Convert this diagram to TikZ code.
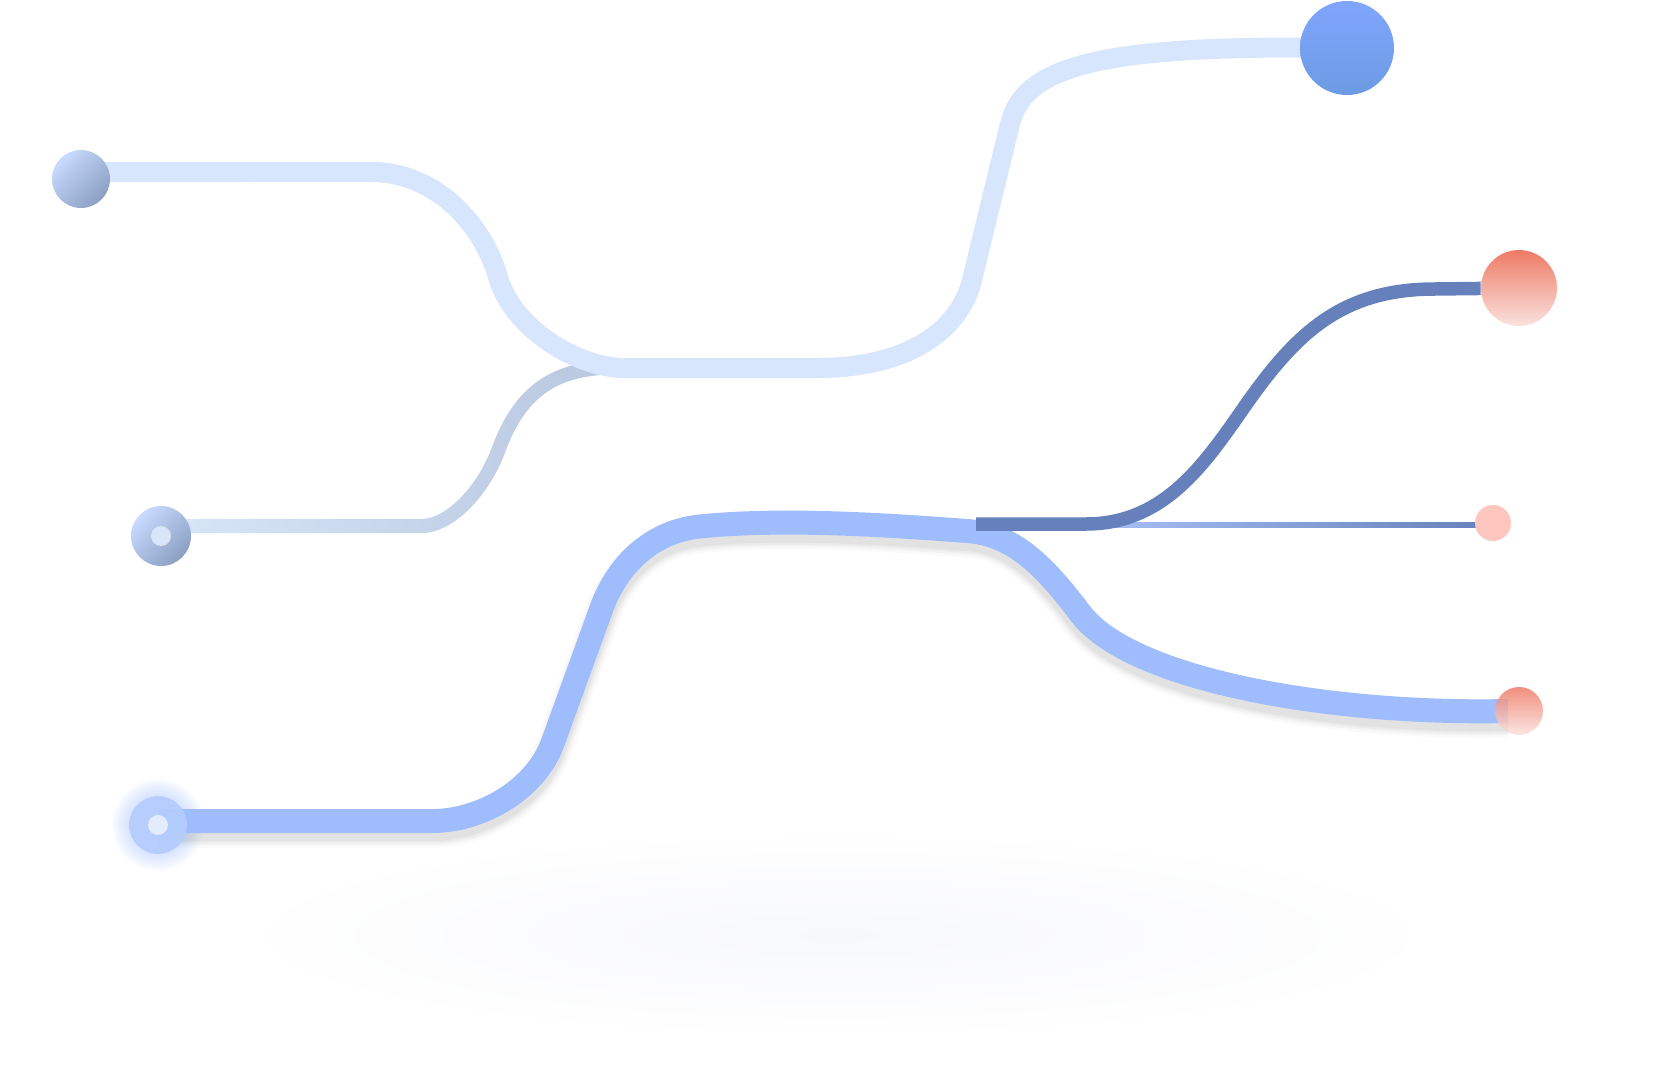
\documentclass[tikz,border=0pt]{standalone}
\usetikzlibrary{fadings}

\definecolor{palewire}{HTML}{D7E6FD}
\definecolor{mistlight}{HTML}{D9E7F9}
\definecolor{mistwire}{HTML}{B9C8E0}
\definecolor{routeblue}{HTML}{9FBCFD}
\definecolor{inkblue}{HTML}{6580BA}
\definecolor{haze}{HTML}{A9C1F7}
\definecolor{srclight}{HTML}{C9DBFF}
\definecolor{srcdark}{HTML}{8A9FC2}
\definecolor{dotfill}{HTML}{D9E6FA}
\definecolor{glowblue}{HTML}{B4CCFE}
\definecolor{glowdot}{HTML}{E2ECFD}
\definecolor{skytop}{HTML}{80A5FE}
\definecolor{skybottom}{HTML}{6B9BE2}
\definecolor{coraltop}{HTML}{EE7B66}
\definecolor{coralbottom}{HTML}{FAE2DE}
\definecolor{peach}{HTML}{FDC7BF}
\definecolor{shadowgray}{HTML}{555555}
\definecolor{floor}{HTML}{F7F8FC}

\pgfdeclarelayer{background}
\pgfsetlayers{background,main}

\begin{document}
\begin{tikzpicture}[x=0.02cm, y=-0.02cm, dot/.style = {circle, inner sep=0pt}, wire/.style = {line cap=butt, line join=round},
        soft/.style 2 args = {preaction={draw=shadowgray, opacity=#1, line width=#2, transform canvas={yshift=-0.16cm}}}]
        \useasboundingbox (0,0) rectangle (1678,1075);

        % end points
        \node[dot, minimum size=1.16cm, top color=srclight, bottom color=srcdark, shading angle=45] (s1) at (81,179) {};
        \node[dot, minimum size=1.2cm, top color=srclight, bottom color=srcdark, shading angle=45] (s2) at (161,536) {};
        \node[dot, minimum size=0.4cm, fill=dotfill] (s2c) at (s2) {};
        \node[dot, minimum size=1.16cm, fill=glowblue, opacity=0.95] (s3) at (158,825) {};
        \node[dot, minimum size=0.4cm, fill=glowdot] (s3c) at (s3) {};
        \node[dot, minimum size=1.88cm, top color=skytop, bottom color=skybottom] (t1) at (1347,48) {};
        \node[dot, minimum size=1.52cm, top color=coraltop, bottom color=coralbottom] (t2) at (1519,288) {};
        \node[dot, minimum size=0.72cm, fill=peach] (t3) at (1493,523) {};
        \node[dot, minimum size=0.96cm, top color=coraltop, bottom color=coralbottom, opacity=0.85] (t4) at (1519,711) {};

        \coordinate (join) at (600,368);
        \coordinate (fork) at (976,524);
        \coordinate (split) at (1086,527);

        \begin{pgfonlayer}{background}
        \shade[inner color=floor, outer color=white] (838,935) ellipse (12.3cm and 2.1cm);
        \foreach \r in {0.6,0.62,...,0.92}
            \fill[glowblue, opacity=0.04] (s3) circle (\r cm);

        \draw[wire, line width=0.28cm, mistlight] ([yshift=0.2cm]s2.center) -- (422,526) .. controls (450,526) and (485,490) .. (500,446) .. controls (520,395) and (550,372) .. (join);
        \draw[wire, line width=0.28cm, mistwire, path fading=west] ([yshift=0.2cm]s2.center) -- (422,526) .. controls (450,526) and (485,490) .. (500,446) .. controls (520,395) and (550,372) .. (join);

        \draw[wire, line width=0.4cm, palewire] ([yshift=0.14cm]s1.center) -- (371,172) .. controls (440,172) and (485,230) .. (498,277) .. controls (512,328) and (580,372) .. (634,368) -- (817,368) .. controls (910,368) and (960,329) .. (972,280) -- (1010,124) .. controls (1024,66) and (1100,44) .. (t1.center);

        \draw[wire, line width=0.48cm, routeblue,
            soft={0.03}{0.74cm}, soft={0.04}{0.64cm}, soft={0.05}{0.56cm}, soft={0.06}{0.48cm}]
            ([yshift=0.08cm]s3.center) -- (433,821) .. controls (478,821) and (535,792) .. (553,742) -- (602,607) .. controls (614,574) and (645,530) .. (705,526) .. controls (790,518) and (900,526) .. (967,531) .. controls (1010,534) and (1040,560) .. (1080,613) .. controls (1130,680) and (1330,715) .. ([xshift=-0.22cm]t4.center);

        \shade[left color=haze, right color=inkblue] ([yshift=0.09cm]split) rectangle ([yshift=-0.09cm]t3.center);
        \draw[wire, line width=0.27cm, inkblue] (fork) -- (1086,524) .. controls (1160,524) and (1200,470) .. (1236,419) .. controls (1290,340) and (1335,289) .. (1435,289) -- (t2);
        \end{pgfonlayer}

    \end{tikzpicture}
\end{document}
